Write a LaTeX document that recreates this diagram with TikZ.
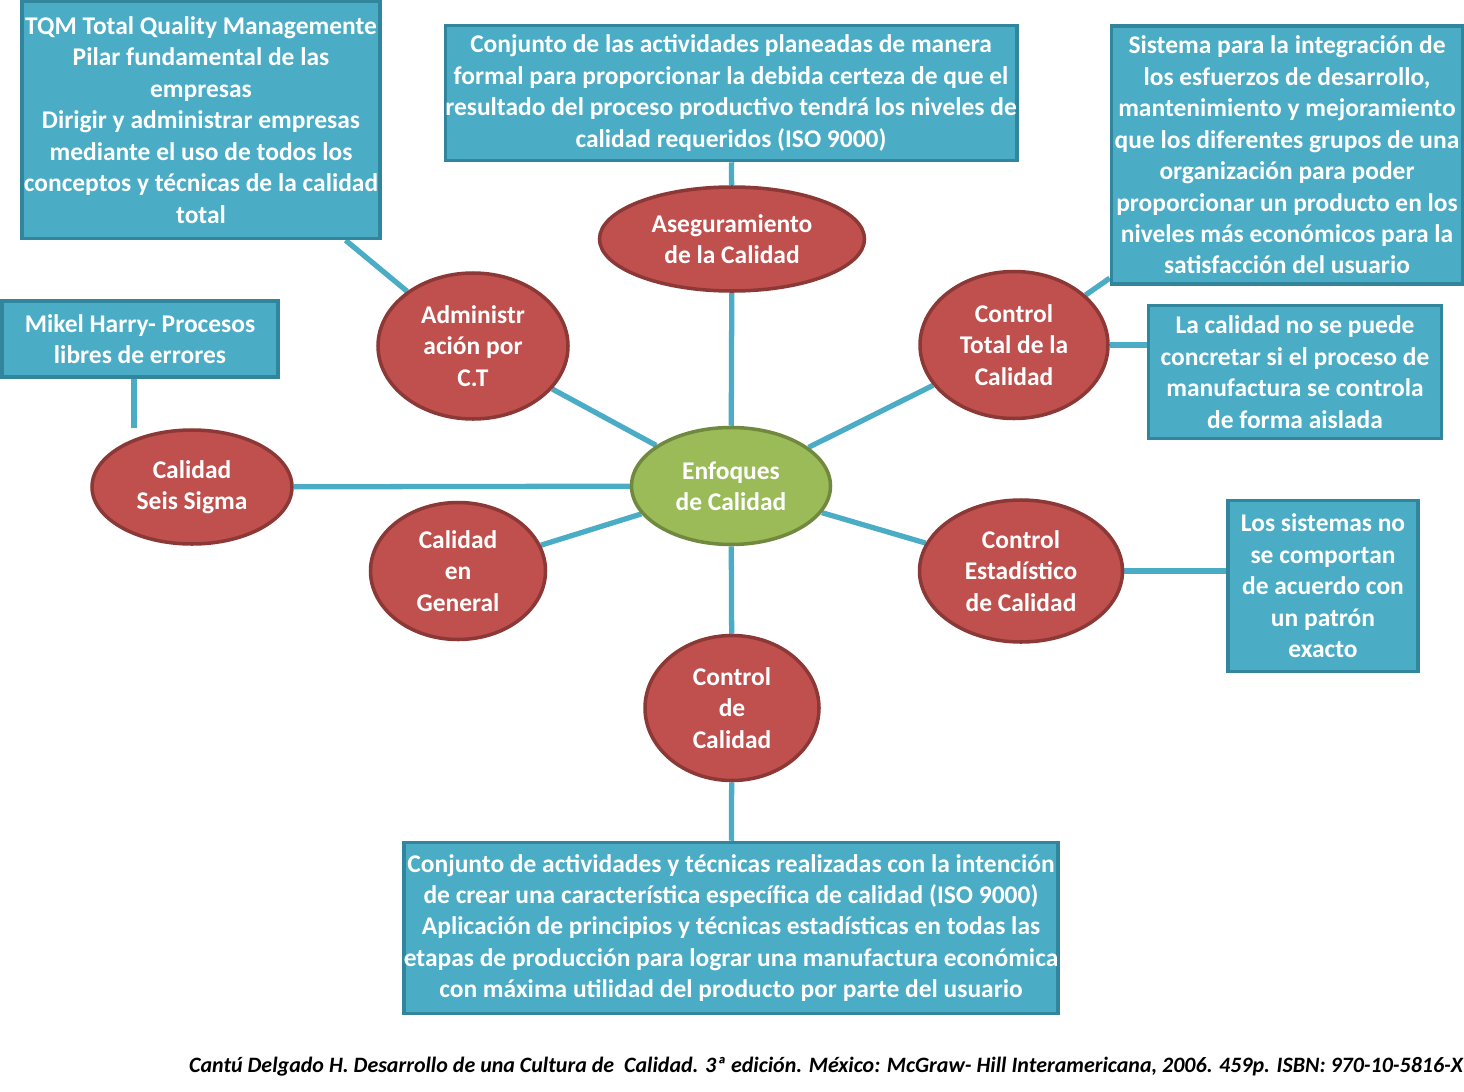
\documentclass[tikz,border=0pt]{standalone}
\usepackage{fontspec}
\setmainfont{Carlito}
\usetikzlibrary{shapes.geometric, backgrounds}
\definecolor{boxfill}{HTML}{4BACC6}
\definecolor{boxline}{HTML}{31859C}
\definecolor{redfill}{HTML}{C0504D}
\definecolor{redline}{HTML}{8C3836}
\definecolor{greenfill}{HTML}{9BBB59}
\definecolor{greenline}{HTML}{71893F}
\tikzset{
  txt/.style={text=white, font=\fontsize{14.5}{17.9}\selectfont\bfseries, align=center, inner sep=0pt},
  infobox/.style={txt, rectangle, fill=boxfill, draw=boxline, line width=2pt},
  topic/.style={txt, ellipse, fill=redfill, draw=redline, line width=2pt},
  hub/.style={txt, ellipse, fill=greenfill, draw=greenline, line width=2pt},
  link/.style={boxfill, line width=3pt}
}
\begin{document}
\begin{tikzpicture}[x=0.02cm, y=-0.02cm]
    \useasboundingbox (0,0) rectangle (1464,1092);

    % ellipses
    \node[hub, minimum width=199*0.02cm, minimum height=117*0.02cm] (enfoques) at (731,486) {Enfoques\\de Calidad};
    \node[topic, minimum width=265*0.02cm, minimum height=104*0.02cm] (aseg) at (732,239) {Aseguramiento\\de la Calidad};
    \node[topic, minimum width=190*0.02cm, minimum height=146*0.02cm] (admin) at (473,346) {Administr\\ación por\\C.T};
    \node[topic, minimum width=188*0.02cm, minimum height=147*0.02cm] (ctotal) at (1014,345) {Control\\Total de la\\Calidad};
    \node[topic, minimum width=200*0.02cm, minimum height=114*0.02cm] (sigma) at (192,487) {Calidad\\Seis Sigma};
    \node[topic, minimum width=175*0.02cm, minimum height=137*0.02cm] (general) at (458,571) {Calidad\\en\\General};
    \node[topic, minimum width=203*0.02cm, minimum height=142*0.02cm] (cestad) at (1021,571) {Control\\Estadístico\\de Calidad};
    \node[topic, minimum width=174*0.02cm, minimum height=145*0.02cm] (ccal) at (732,708) {Control\\de\\Calidad};

    % boxes
    \node[infobox, minimum width=358*0.02cm, minimum height=237*0.02cm] (tqm) at (201,120)
        {TQM Total Quality Managemente\\Pilar fundamental de las\\empresas\\Dirigir y administrar empresas\\mediante el uso de todos los\\conceptos y técnicas de la calidad\\total};
    \node[infobox, minimum width=566*0.02cm, minimum height=135*0.02cm] (asegbox) at (731,93)
        {Conjunto de las actividades planeadas de manera\\formal para proporcionar la debida certeza de que el\\resultado del proceso productivo tendrá los niveles de\\calidad requeridos (ISO 9000)};
    \node[infobox, minimum width=351*0.02cm, minimum height=258*0.02cm] (sistema) at (1287,155)
        {Sistema para la integración de\\los esfuerzos de desarrollo,\\mantenimiento y mejoramiento\\que los diferentes grupos de una\\organización para poder\\proporcionar un producto en los\\niveles más económicos para la\\satisfacción del usuario};
    \node[infobox, minimum width=276*0.02cm, minimum height=76*0.02cm] (mikel) at (140,339)
        {Mikel Harry- Procesos\\libres de errores};
    \node[infobox, minimum width=293*0.02cm, minimum height=133*0.02cm] (aislada) at (1295,372)
        {La calidad no se puede\\concretar si el proceso de\\manufactura se controla\\de forma aislada};
    \node[infobox, minimum width=190*0.02cm, minimum height=171*0.02cm] (patron) at (1323,586)
        {Los sistemas no\\se comportan\\de acuerdo con\\un patrón\\exacto};
    \node[infobox, minimum width=644*0.02cm, minimum height=171*0.02cm] (ccalbox) at (731,928)
        {Conjunto de actividades y técnicas realizadas con la intención\\de crear una característica específica de calidad (ISO 9000)\\Aplicación de principios y técnicas estadísticas en todas las\\etapas de producción para lograr una manufactura económica\\con máxima utilidad del producto por parte del usuario};

    \node[font=\fontsize{12.5}{15}\selectfont\bfseries\itshape, inner sep=0pt] (cita) at (826,1067)
        {Cantú Delgado H. Desarrollo de una Cultura de\ \ Calidad. 3ª edición. México: McGraw- Hill Interamericana, 2006. 459p. ISBN: 970-10-5816-X};

    % connectors
    \begin{pgfonlayer}{background}
        \foreach \t in {aseg, admin, ctotal, sigma, general, cestad, ccal}
            \draw[link] (enfoques) -- (\t);
        \draw[link] (aseg) -- (asegbox);
        \draw[link] (ccal) -- (ccalbox);
        \draw[link] (admin) -- (tqm);
        \draw[link] (ctotal) -- (sistema);
        \draw[link] (ctotal) -- (aislada.west |- ctotal);
        \draw[link] (cestad) -- (patron.west |- cestad);
        \draw[link] (sigma.north -| mikel.south) ++(-6,0) coordinate (sigtop) -- (sigtop |- mikel.south);
    \end{pgfonlayer}
\end{tikzpicture}
\end{document}
